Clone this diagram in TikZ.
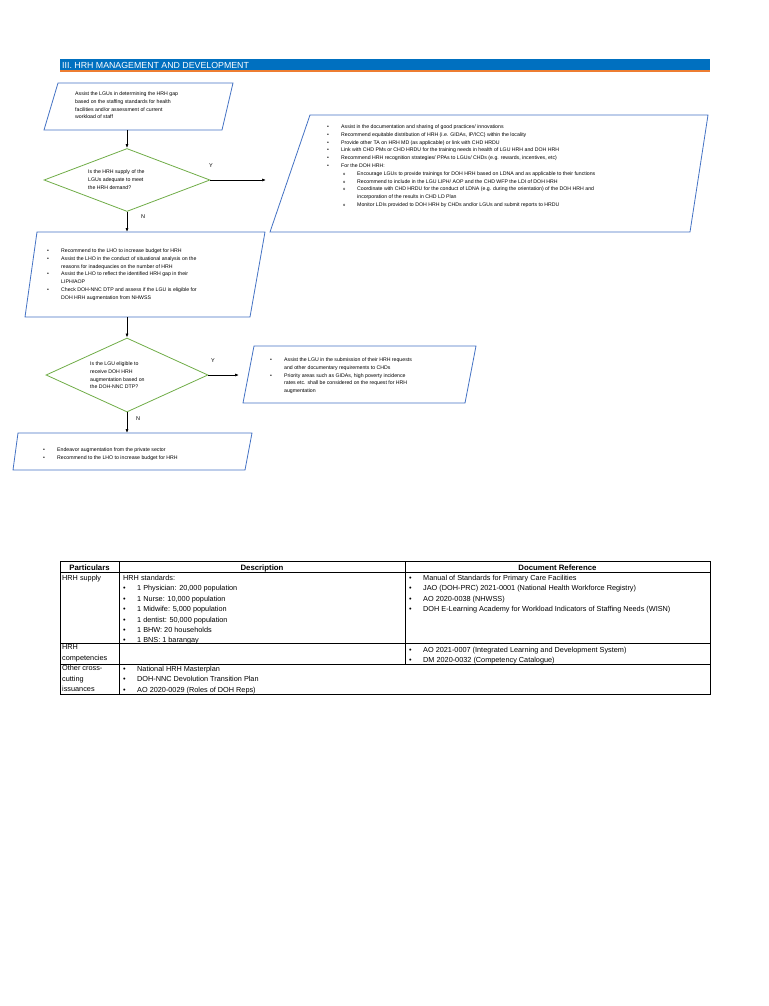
\documentclass[tikz,border=0pt]{standalone}
\usepackage{fontspec}
\setmainfont{Liberation Sans}
\usetikzlibrary{shapes.geometric,arrows.meta}
\definecolor{bbox}{RGB}{68,114,196}
\definecolor{gdia}{RGB}{112,173,71}
\definecolor{hdr}{RGB}{0,112,192}
\definecolor{org}{RGB}{237,125,49}
\newcommand{\bl}[1]{\makebox[14pt][l]{\textbullet}#1}
\newcommand{\ct}[1]{\hspace*{14pt}#1}
\newcommand{\sbl}[1]{\hspace*{16pt}\makebox[14pt][l]{\fontsize{4}{4}\selectfont o}#1}
\newcommand{\sct}[1]{\hspace*{30pt}#1}
\tikzset{
  pbox/.style={draw=bbox,line width=0.8pt},
  dia/.style={draw=gdia,line width=0.8pt,diamond,inner sep=0pt},
  ftxt/.style={anchor=north west,align=left,inner sep=0pt,font=\fontsize{5.2}{7.8}\selectfont},
  ttxt/.style={anchor=north west,align=left,inner sep=0pt,font=\fontsize{7.3}{10.4}\selectfont},
  lbl/.style={inner sep=0pt,font=\fontsize{5.5}{6}\selectfont},
  arr/.style={-{Latex[length=4pt,width=3pt]},line width=0.7pt},
  tline/.style={line width=0.6pt}
}
\begin{document}
\begin{tikzpicture}[x=1pt,y=-1pt]
\useasboundingbox (0,0) rectangle (768,1006);
\fill[white] (0,0) rectangle (768,1006);
% header
\fill[hdr] (60,59) rectangle (710,70.5);
\fill[org] (60,70.5) rectangle (710,72);
\node[anchor=base west,inner sep=0pt,text=white,font=\fontsize{8.8}{9}\selectfont] (title) at (62,68.5) {III. HRH MANAGEMENT AND DEVELOPMENT};
% box1
\draw[pbox] (58,83) -- (233,83) -- (222,130) -- (44,130) -- cycle;
\coordinate (b1s) at (127,130);
\node[ftxt] (t1) at (75,91.5) {Assist the LGUs in determining the HRH gap\\based on the staffing standards for health\\facilities and/or assessment of current\\workload of staff};
% diamond1
\node[dia,minimum width=166pt,minimum height=63pt] (d1) at (127,180) {};
\node[ftxt] (t2) at (88,169.5) {Is the HRH supply of the\\LGUs adequate to meet\\the HRH demand?};
\draw[arr] (b1s) -- (d1.north);
% big box
\draw[pbox] (310,115) -- (708,115) -- (690,232) -- (270,232) -- cycle;
\coordinate (bbw) at (266,180);
\draw[arr] (d1.east) -- (bbw);
\node[lbl] (y1) at (211,166) {Y};
\node[ftxt] (t3) at (327,124.5) {\bl{Assist in the documentation and sharing of good practices/ innovations}\\
\bl{Recommend equitable distribution of HRH (i.e. GIDAs, IP/ICC) within the locality}\\
\bl{Provide other TA on HRH MD (as applicable) or link with CHD HRDU}\\
\bl{Link with CHD PMs or CHD HRDU for the training needs in health of LGU HRH and DOH HRH}\\
\bl{Recommend HRH recognition strategies/ PPAs to LGUs/ CHDs (e.g. rewards, incentives, etc)}\\
\bl{For the DOH HRH:}\\
\sbl{Encourage LGUs to provide trainings for DOH HRH based on LDNA and as applicable to their functions}\\
\sbl{Recommend to include in the LGU LIPH/ AOP and the CHD WFP the LDI of DOH HRH}\\
\sbl{Coordinate with CHD HRDU for the conduct of LDNA (e.g. during the orientation) of the DOH HRH and}\\
\sct{incorporation of the results in CHD LD Plan}\\
\sbl{Monitor LDIs provided to DOH HRH by CHDs and/or LGUs and submit reports to HRDU}};
% box3
\draw[pbox] (37,232) -- (265,232) -- (250,317) -- (25,317) -- cycle;
\coordinate (b3n) at (127,232);
\coordinate (b3s) at (127,317);
\draw[arr] (d1.south) -- (b3n);
\node[lbl] (n1) at (143,217) {N};
\node[ftxt] (t4) at (47,248.5) {\bl{Recommend to the LHO to increase budget for HRH}\\
\bl{Assist the LHO in the conduct of situational analysis on the}\\
\ct{reasons for inadequacies on the number of HRH}\\
\bl{Assist the LHO to reflect the identified HRH gap in their}\\
\ct{LIPH/AOP}\\
\bl{Check DOH-NNC DTP and assess if the LGU is eligible for}\\
\ct{DOH HRH augmentation from NHWSS}};
% diamond2
\node[dia,minimum width=162pt,minimum height=74pt] (d2) at (127,375) {};
\draw[arr] (b3s) -- (d2.north);
\node[ftxt] (t5) at (90,361.5) {Is the LGU eligible to\\receive DOH HRH\\augmentation based on\\the DOH-NNC DTP?};
% box4
\draw[pbox] (254,346) -- (476,346) -- (465,403) -- (243,403) -- cycle;
\coordinate (b4w) at (239,375);
\draw[arr] (d2.east) -- (b4w);
\node[lbl] (y2) at (213,361) {Y};
\node[ftxt] (t6) at (270,357.5) {\bl{Assist the LGU in the submission of their HRH requests}\\
\ct{and other documentary requirements to CHDs}\\
\bl{Priority areas such as GIDAs, high poverty incidence}\\
\ct{rates etc. shall be considered on the request for HRH}\\
\ct{augmentation}};
% box5
\draw[pbox] (18,433) -- (252,433) -- (245,470) -- (13,470) -- cycle;
\coordinate (b5n) at (127,433);
\draw[arr] (d2.south) -- (b5n);
\node[lbl] (n2) at (138,419) {N};
\node[ftxt] (t7) at (43,447.5) {\bl{Endeavor augmentation from the private sector}\\
\bl{Recommend to the LHO to increase budget for HRH}};
% table
\draw[tline] (60,561) rectangle (710,694);
\draw[tline] (60,572) -- (710,572);
\draw[tline] (60,643) -- (710,643);
\draw[tline] (60,664) -- (710,664);
\draw[tline] (119,561) -- (119,694);
\draw[tline] (405,561) -- (405,664);
\node[anchor=base,inner sep=0pt,font=\fontsize{7.8}{9}\selectfont\bfseries] (h1) at (89.5,570) {Particulars};
\node[anchor=base,inner sep=0pt,font=\fontsize{7.8}{9}\selectfont\bfseries] (h2) at (262,570) {Description};
\node[anchor=base,inner sep=0pt,font=\fontsize{7.8}{9}\selectfont\bfseries] (h3) at (557.5,570) {Document Reference};
\node[ttxt] (p1) at (62,575) {HRH supply};
\node[ttxt] (d1t) at (123,575) {HRH standards:\\
\bl{1 Physician: 20,000 population}\\
\bl{1 Nurse: 10,000 population}\\
\bl{1 Midwife: 5,000 population}\\
\bl{1 dentist: 50,000 population}\\
\bl{1 BHW: 20 households}\\
\bl{1 BNS: 1 barangay}};
\node[ttxt] (r1) at (409,575) {\bl{Manual of Standards for Primary Care Facilities}\\
\bl{JAO (DOH-PRC) 2021-0001 (National Health Workforce Registry)}\\
\bl{AO 2020-0038 (NHWSS)}\\
\bl{DOH E-Learning Academy for Workload Indicators of Staffing Needs (WISN)}};
\node[ttxt] (p2) at (62,644.5) {HRH\\competencies};
\node[ttxt] (r2) at (409,647) {\bl{AO 2021-0007 (Integrated Learning and Development System)}\\
\bl{DM 2020-0032 (Competency Catalogue)}};
\node[ttxt] (p3) at (62,665.5) {Other cross-\\cutting\\issuances};
\node[ttxt] (d3t) at (123,666) {\bl{National HRH Masterplan}\\
\bl{DOH-NNC Devolution Transition Plan}\\
\bl{AO 2020-0029 (Roles of DOH Reps)}};
\end{tikzpicture}
\end{document}
